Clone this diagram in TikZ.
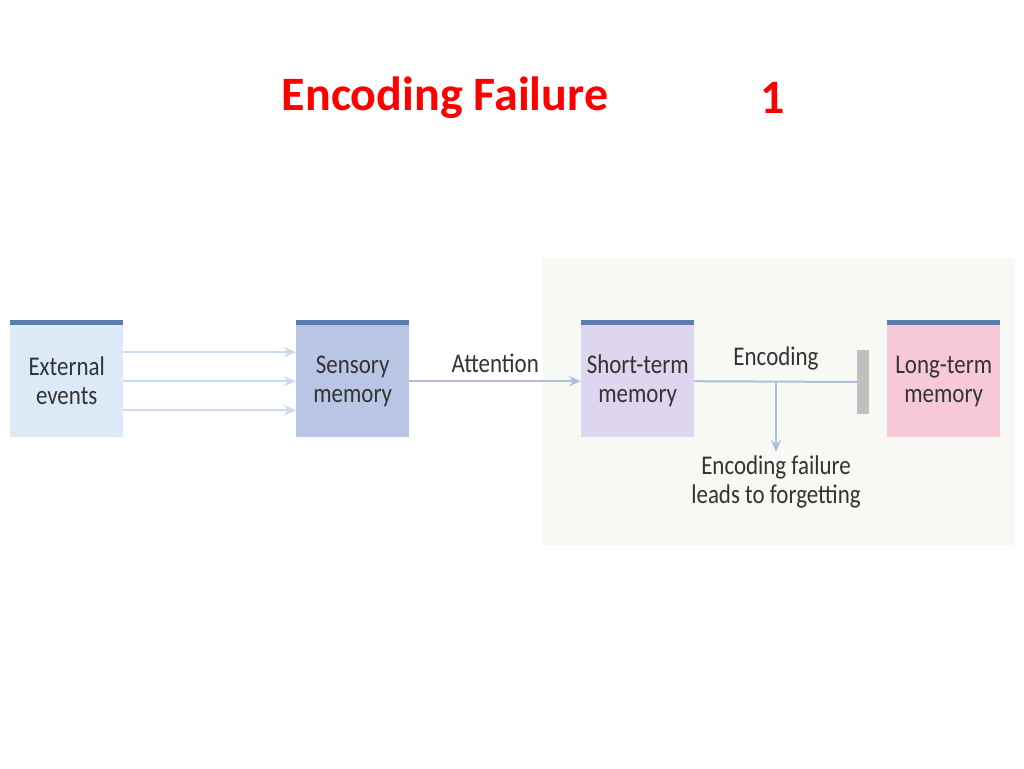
\documentclass[tikz,border=0pt]{standalone}
\usepackage{fontspec}
\usetikzlibrary{arrows.meta}
\setmainfont{Carlito}
\definecolor{ttl}{HTML}{FF0000}
\definecolor{bar}{HTML}{5B7DAE}
\definecolor{bext}{HTML}{DCE9F7}
\definecolor{bsen}{HTML}{B9C5E4}
\definecolor{bstm}{HTML}{DED5EE}
\definecolor{bltm}{HTML}{F6C8D8}
\definecolor{arr}{HTML}{AEBEDC}
\definecolor{arrl}{HTML}{CCDAF0}
\definecolor{txt}{HTML}{333333}
\definecolor{bgr}{HTML}{F7F9F4}
\definecolor{blkc}{HTML}{C0C0C0}
\begin{document}
\begin{tikzpicture}[x=1pt,y=-1pt,
  mem/.style={minimum width=113pt,minimum height=112pt,anchor=north west,inner sep=0pt,align=center,font=\fontsize{27}{29}\selectfont\addfontfeature{FakeStretch=0.85},text=txt},
  lab/.style={font=\fontsize{27}{29}\selectfont\addfontfeature{FakeStretch=0.85},text=txt,align=center},
  ar/.style={draw=arr,line width=2pt,-{Stealth[length=12pt,width=10pt]}},
  arl/.style={draw=arrl,line width=2pt,-{Stealth[length=12pt,width=10pt]}}]
\useasboundingbox (0,0) rectangle (1024,768);
\node[font=\bfseries\fontsize{48}{50}\selectfont,text=ttl] (title) at (445,98) {Encoding Failure};
\node[font=\bfseries\fontsize{48}{50}\selectfont,text=ttl] (num) at (773,98) {1};
\fill[bgr] (543,258) rectangle (1015,545);
\node[mem,fill=bext] (ext) at (10,325) {External\\events};
\node[mem,fill=bsen] (sen) at (296,325) {Sensory\\memory};
\node[mem,fill=bstm] (stm) at (581,325) {Short-term\\memory};
\node[mem,fill=bltm] (ltm) at (887,325) {Long-term\\memory};
\foreach \n in {ext,sen,stm,ltm} \fill[bar] (\n.north west) rectangle ([yshift=5pt]\n.north east);
\node[fill=blkc,minimum width=12pt,minimum height=64pt,inner sep=0pt] (blk) at (863,382) {};
\draw[arl] ([yshift=-29pt]ext.east) -- ([yshift=-29pt]sen.west);
\draw[arl] (ext.east) -- (sen.west);
\draw[arl] ([yshift=29pt]ext.east) -- ([yshift=29pt]sen.west);
\draw[ar] (sen.east) -- node[lab,above=4pt] (att) {Attention} (stm.west);
\draw[ar,-] (stm.east) -- (blk.west);
\node[lab] (enc) at (776,358) {Encoding};
\coordinate (split) at (776,381);
\draw[ar] (split) -- (776,452) coordinate (fe);
\node[lab,below=0pt] (fail) at (fe) {Encoding failure\\leads to forgetting};
\end{tikzpicture}
\end{document}
